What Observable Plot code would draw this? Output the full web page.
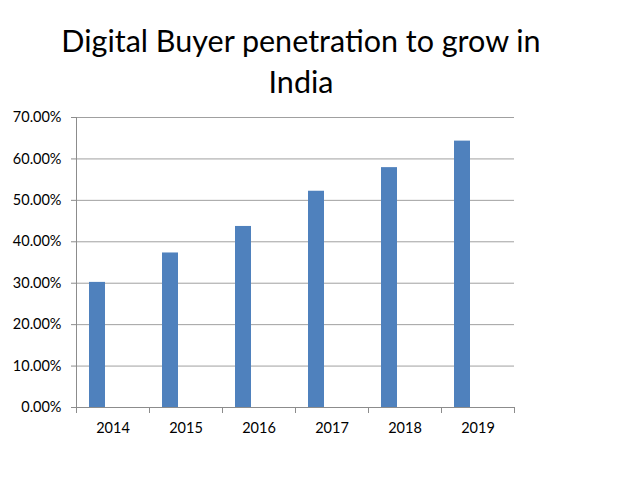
<!DOCTYPE html>
<html>
<head>
<meta charset="utf-8">
<script src="https://cdn.jsdelivr.net/npm/d3@7"></script>
<script src="https://cdn.jsdelivr.net/npm/@observablehq/plot@0.6"></script>
<style>
  html, body { margin: 0; padding: 0; background: #fff; }
  #title { width: 638px; height: 100px; box-sizing: border-box; padding-top: 20px; padding-right: 36px; text-align: center;
           font-family: Lato, "Open Sans", sans-serif; font-size: 30.5px; line-height: 41px; color: #000; }
  svg { display: block; }
</style>
</head>
<body>
<div id="title">Digital Buyer penetration to grow in<br>India</div>
<div id="chart"></div>
<script>
const years = ["2014", "2015", "2016", "2017", "2018", "2019"];
const values = [0.302, 0.373, 0.437, 0.522, 0.579, 0.643];
const seriesSlots = ["Digital Buyer penetration", "_b", "_c"];
const yTicks = [0, 0.1, 0.2, 0.3, 0.4, 0.5, 0.6, 0.7];

const data = years.map((y, i) => ({year: y, value: values[i], series: seriesSlots[0]}));
const font = "Lato, 'Open Sans', sans-serif";
const axisColor = "#8c8c8c";
const innerHeight = 378 - 17 - 71;

const plot = Plot.plot({
  width: 638,
  height: 378,
  marginTop: 17,
  marginBottom: 71,
  marginLeft: 74,
  marginRight: 122,
  style: {fontFamily: font, fontSize: "14.5px", color: "#000", background: "#fff"},
  fx: {domain: years, padding: 0, label: null},
  x: {domain: seriesSlots, paddingInner: 0, paddingOuter: 0.75, axis: null},
  y: {domain: [0, 0.7], label: null},
  marks: [
    Plot.gridY(yTicks, {stroke: "#a0a0a0", strokeOpacity: 1}),
    Plot.axisY(yTicks, {anchor: "left", tickFormat: d3.format(".2%"), tickSize: 5, tickPadding: 10, stroke: axisColor, fontSize: 14.5, fill: "#000"}),
    Plot.frame({anchor: "left", stroke: axisColor, facetAnchor: "left"}),
    Plot.barY(data, {fx: "year", x: "series", y: "value", fill: "#4f81bd"}),
    Plot.ruleY([0], {stroke: axisColor}),
    Plot.frame({anchor: "left", stroke: axisColor, insetTop: innerHeight, insetBottom: -5}),
    Plot.frame({anchor: "right", stroke: axisColor, insetTop: innerHeight, insetBottom: -5}),
    Plot.axisFx({anchor: "bottom", tickSize: 0, tickPadding: 15, fontSize: 14.5, fill: "#000", label: null})
  ]
});
document.getElementById("chart").appendChild(plot);
</script>
</body>
</html>
